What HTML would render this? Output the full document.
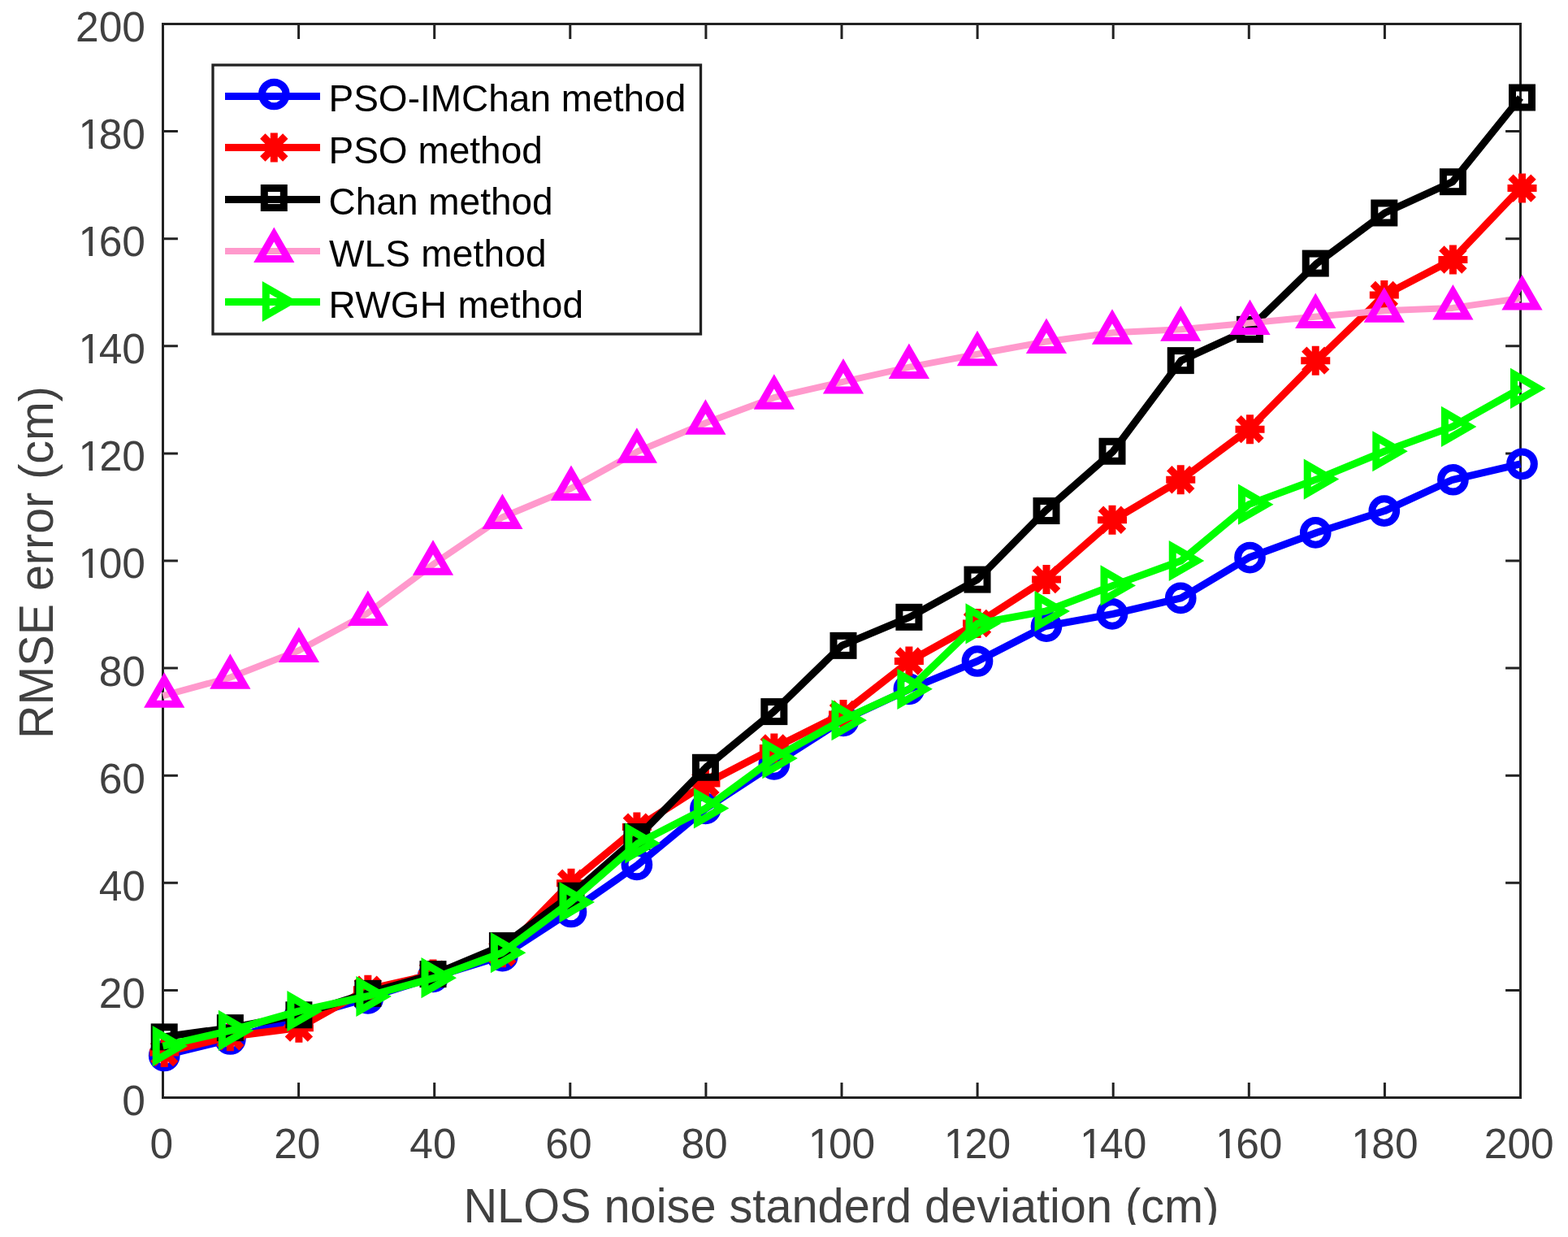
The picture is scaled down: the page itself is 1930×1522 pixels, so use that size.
<!DOCTYPE html><html><head><meta charset="utf-8"><title>RMSE error vs NLOS noise</title><style>
html,body{margin:0;padding:0;background:#fff;}body{width:1930px;height:1522px;overflow:hidden;}
svg{display:block;}text{font-family:"Liberation Sans",Arial,Helvetica,sans-serif;}
</style></head><body>
<svg width="1930" height="1522" viewBox="0 0 1930 1522">
<rect width="1930" height="1522" fill="#ffffff"/>
<rect x="200.5" y="29.5" width="1671" height="1321" fill="none" stroke="#222222" stroke-width="3"/><path d="M200.5 1350.5V1332.1M200.5 29.5V47.9M200.5 1350.5H218.9M1871.5 1350.5H1853.1M367.6 1350.5V1332.1M367.6 29.5V47.9M200.5 1218.4H218.9M1871.5 1218.4H1853.1M534.7 1350.5V1332.1M534.7 29.5V47.9M200.5 1086.3H218.9M1871.5 1086.3H1853.1M701.8 1350.5V1332.1M701.8 29.5V47.9M200.5 954.2H218.9M1871.5 954.2H1853.1M868.9 1350.5V1332.1M868.9 29.5V47.9M200.5 822.1H218.9M1871.5 822.1H1853.1M1036 1350.5V1332.1M1036 29.5V47.9M200.5 690H218.9M1871.5 690H1853.1M1203.1 1350.5V1332.1M1203.1 29.5V47.9M200.5 557.9H218.9M1871.5 557.9H1853.1M1370.2 1350.5V1332.1M1370.2 29.5V47.9M200.5 425.8H218.9M1871.5 425.8H1853.1M1537.3 1350.5V1332.1M1537.3 29.5V47.9M200.5 293.7H218.9M1871.5 293.7H1853.1M1704.4 1350.5V1332.1M1704.4 29.5V47.9M200.5 161.6H218.9M1871.5 161.6H1853.1M1871.5 1350.5V1332.1M1871.5 29.5V47.9M200.5 29.5H218.9M1871.5 29.5H1853.1" stroke="#222222" stroke-width="3" fill="none"/>
<defs><clipPath id="cx100"><rect x="954.74" y="1345" width="200" height="74.95"/><rect x="1007.61" y="1418.95" width="4.64" height="20"/><rect x="1023.38" y="1418.95" width="200" height="20"/></clipPath><clipPath id="cx120"><rect x="1121.84" y="1345" width="200" height="74.95"/><rect x="1174.71" y="1418.95" width="4.64" height="20"/><rect x="1190.48" y="1418.95" width="200" height="20"/></clipPath><clipPath id="cx140"><rect x="1288.94" y="1345" width="200" height="74.95"/><rect x="1341.81" y="1418.95" width="4.64" height="20"/><rect x="1357.58" y="1418.95" width="200" height="20"/></clipPath><clipPath id="cx160"><rect x="1456.04" y="1345" width="200" height="74.95"/><rect x="1508.91" y="1418.95" width="4.64" height="20"/><rect x="1524.68" y="1418.95" width="200" height="20"/></clipPath><clipPath id="cx180"><rect x="1623.14" y="1345" width="200" height="74.95"/><rect x="1676.01" y="1418.95" width="4.64" height="20"/><rect x="1691.78" y="1418.95" width="200" height="20"/></clipPath><clipPath id="cy100"><rect x="56.57" y="631.4" width="200" height="74.95"/><rect x="109.45" y="705.35" width="4.64" height="20"/><rect x="125.22" y="705.35" width="200" height="20"/></clipPath><clipPath id="cy120"><rect x="56.57" y="499.3" width="200" height="74.95"/><rect x="109.45" y="573.25" width="4.64" height="20"/><rect x="125.22" y="573.25" width="200" height="20"/></clipPath><clipPath id="cy140"><rect x="56.57" y="367.2" width="200" height="74.95"/><rect x="109.45" y="441.15" width="4.64" height="20"/><rect x="125.22" y="441.15" width="200" height="20"/></clipPath><clipPath id="cy160"><rect x="56.57" y="235.1" width="200" height="74.95"/><rect x="109.45" y="309.05" width="4.64" height="20"/><rect x="125.22" y="309.05" width="200" height="20"/></clipPath><clipPath id="cy180"><rect x="56.57" y="103" width="200" height="74.95"/><rect x="109.45" y="176.95" width="4.64" height="20"/><rect x="125.22" y="176.95" width="200" height="20"/></clipPath></defs>
<g font-size="51.5" fill="#404040"><text x="184.38" y="1425">0</text><text x="337.16 365.8" y="1425">20</text><text x="504.26 532.9" y="1425">40</text><text x="671.36 700" y="1425">60</text><text x="838.46 867.1" y="1425">80</text><text x="994.74 1019.88 1048.52" y="1425" clip-path="url(#cx100)">100</text><text x="1161.84 1186.98 1215.62" y="1425" clip-path="url(#cx120)">120</text><text x="1328.94 1354.08 1382.72" y="1425" clip-path="url(#cx140)">140</text><text x="1496.04 1521.18 1549.82" y="1425" clip-path="url(#cx160)">160</text><text x="1663.14 1688.28 1716.92" y="1425" clip-path="url(#cx180)">180</text><text x="1826.74 1855.38 1884.02" y="1425">200</text><text x="150.36" y="1371.9">0</text><text x="121.72 150.36" y="1239.8">20</text><text x="121.72 150.36" y="1107.7">40</text><text x="121.72 150.36" y="975.6">60</text><text x="121.72 150.36" y="843.5">80</text><text x="96.57 121.72 150.36" y="711.4" clip-path="url(#cy100)">100</text><text x="96.57 121.72 150.36" y="579.3" clip-path="url(#cy120)">120</text><text x="96.57 121.72 150.36" y="447.2" clip-path="url(#cy140)">140</text><text x="96.57 121.72 150.36" y="315.1" clip-path="url(#cy160)">160</text><text x="96.57 121.72 150.36" y="183" clip-path="url(#cy180)">180</text><text x="93.07 121.72 150.36" y="50.9">200</text></g>
<defs><clipPath id="xlc"><rect x="0" y="1400" width="1930" height="107"/></clipPath></defs>
<text x="1035.4" y="1503.8" font-size="58.4" fill="#404040" text-anchor="middle" textLength="930" lengthAdjust="spacingAndGlyphs" clip-path="url(#xlc)">NLOS noise standerd deviation (cm)</text>
<text transform="translate(64.9 692) rotate(-90)" font-size="58.4" fill="#404040" text-anchor="middle" textLength="434" lengthAdjust="spacingAndGlyphs">RMSE error (cm)</text>
<g><polyline points="200.5,1298.98 284.05,1278.51 367.6,1252.09 451.15,1228.31 534.7,1201.89 618.25,1176.13 701.8,1121.97 785.35,1063.84 868.9,994.82 952.45,940.33 1036,886.83 1119.55,847.86 1203.1,813.51 1286.65,770.58 1370.2,755.39 1453.75,735.9 1537.3,686.04 1620.85,655.32 1704.4,628.57 1787.95,590.26 1871.5,570.78" fill="none" stroke="#0000ff" stroke-width="9.0" stroke-linejoin="round" stroke-linecap="butt"/><circle cx="202.2" cy="1298.98" r="14.85" fill="none" stroke="#0000ff" stroke-width="9.0"/><circle cx="283.35" cy="1278.51" r="14.85" fill="none" stroke="#0000ff" stroke-width="9.0"/><circle cx="367.9" cy="1252.09" r="14.85" fill="none" stroke="#0000ff" stroke-width="9.0"/><circle cx="452.85" cy="1228.31" r="14.85" fill="none" stroke="#0000ff" stroke-width="9.0"/><circle cx="533" cy="1201.89" r="14.85" fill="none" stroke="#0000ff" stroke-width="9.0"/><circle cx="618.4" cy="1176.13" r="14.85" fill="none" stroke="#0000ff" stroke-width="9.0"/><circle cx="703" cy="1121.97" r="14.85" fill="none" stroke="#0000ff" stroke-width="9.0"/><circle cx="783.9" cy="1063.84" r="14.85" fill="none" stroke="#0000ff" stroke-width="9.0"/><circle cx="868.4" cy="994.82" r="14.85" fill="none" stroke="#0000ff" stroke-width="9.0"/><circle cx="952.85" cy="940.33" r="14.85" fill="none" stroke="#0000ff" stroke-width="9.0"/><circle cx="1038" cy="886.83" r="14.85" fill="none" stroke="#0000ff" stroke-width="9.0"/><circle cx="1118.9" cy="847.86" r="14.85" fill="none" stroke="#0000ff" stroke-width="9.0"/><circle cx="1203" cy="813.51" r="14.85" fill="none" stroke="#0000ff" stroke-width="9.0"/><circle cx="1288" cy="770.58" r="14.85" fill="none" stroke="#0000ff" stroke-width="9.0"/><circle cx="1369" cy="755.39" r="14.85" fill="none" stroke="#0000ff" stroke-width="9.0"/><circle cx="1453.25" cy="735.9" r="14.85" fill="none" stroke="#0000ff" stroke-width="9.0"/><circle cx="1538.5" cy="686.04" r="14.85" fill="none" stroke="#0000ff" stroke-width="9.0"/><circle cx="1619.25" cy="655.32" r="14.85" fill="none" stroke="#0000ff" stroke-width="9.0"/><circle cx="1703.8" cy="628.57" r="14.85" fill="none" stroke="#0000ff" stroke-width="9.0"/><circle cx="1788.4" cy="590.26" r="14.85" fill="none" stroke="#0000ff" stroke-width="9.0"/><circle cx="1873.5" cy="570.78" r="14.85" fill="none" stroke="#0000ff" stroke-width="9.0"/></g>
<g><polyline points="200.5,1295.02 284.05,1275.2 367.6,1264.63 451.15,1217.74 534.7,1198.59 618.25,1172.16 701.8,1086.63 785.35,1017.61 868.9,964.11 952.45,920.51 1036,878.9 1119.55,813.51 1203.1,766.95 1286.65,713.12 1370.2,639.8 1453.75,590.26 1537.3,528.18 1620.85,443.63 1704.4,363.05 1787.95,319.46 1871.5,231.61" fill="none" stroke="#ff0000" stroke-width="9.0" stroke-linejoin="round" stroke-linecap="butt"/><path d="M202.2 1277.02V1313.02M184.2 1295.02H220.2M188.2 1281.02L216.2 1309.02M188.2 1309.02L216.2 1281.02" fill="none" stroke="#ff0000" stroke-width="9.0" stroke-linecap="butt"/><path d="M283.35 1257.2V1293.2M265.35 1275.2H301.35M269.35 1261.2L297.35 1289.2M269.35 1289.2L297.35 1261.2" fill="none" stroke="#ff0000" stroke-width="9.0" stroke-linecap="butt"/><path d="M367.9 1246.63V1282.63M349.9 1264.63H385.9M353.9 1250.63L381.9 1278.63M353.9 1278.63L381.9 1250.63" fill="none" stroke="#ff0000" stroke-width="9.0" stroke-linecap="butt"/><path d="M452.85 1199.74V1235.74M434.85 1217.74H470.85M438.85 1203.74L466.85 1231.74M438.85 1231.74L466.85 1203.74" fill="none" stroke="#ff0000" stroke-width="9.0" stroke-linecap="butt"/><path d="M533 1180.59V1216.59M515 1198.59H551M519 1184.59L547 1212.59M519 1212.59L547 1184.59" fill="none" stroke="#ff0000" stroke-width="9.0" stroke-linecap="butt"/><path d="M618.4 1154.16V1190.16M600.4 1172.16H636.4M604.4 1158.16L632.4 1186.16M604.4 1186.16L632.4 1158.16" fill="none" stroke="#ff0000" stroke-width="9.0" stroke-linecap="butt"/><path d="M703 1068.63V1104.63M685 1086.63H721M689 1072.63L717 1100.63M689 1100.63L717 1072.63" fill="none" stroke="#ff0000" stroke-width="9.0" stroke-linecap="butt"/><path d="M783.9 999.61V1035.61M765.9 1017.61H801.9M769.9 1003.61L797.9 1031.61M769.9 1031.61L797.9 1003.61" fill="none" stroke="#ff0000" stroke-width="9.0" stroke-linecap="butt"/><path d="M868.4 946.11V982.11M850.4 964.11H886.4M854.4 950.11L882.4 978.11M854.4 978.11L882.4 950.11" fill="none" stroke="#ff0000" stroke-width="9.0" stroke-linecap="butt"/><path d="M952.85 902.51V938.51M934.85 920.51H970.85M938.85 906.51L966.85 934.51M938.85 934.51L966.85 906.51" fill="none" stroke="#ff0000" stroke-width="9.0" stroke-linecap="butt"/><path d="M1038 860.9V896.9M1020 878.9H1056M1024 864.9L1052 892.9M1024 892.9L1052 864.9" fill="none" stroke="#ff0000" stroke-width="9.0" stroke-linecap="butt"/><path d="M1118.9 795.51V831.51M1100.9 813.51H1136.9M1104.9 799.51L1132.9 827.51M1104.9 827.51L1132.9 799.51" fill="none" stroke="#ff0000" stroke-width="9.0" stroke-linecap="butt"/><path d="M1203 748.95V784.95M1185 766.95H1221M1189 752.95L1217 780.95M1189 780.95L1217 752.95" fill="none" stroke="#ff0000" stroke-width="9.0" stroke-linecap="butt"/><path d="M1288 695.12V731.12M1270 713.12H1306M1274 699.12L1302 727.12M1274 727.12L1302 699.12" fill="none" stroke="#ff0000" stroke-width="9.0" stroke-linecap="butt"/><path d="M1369 621.8V657.8M1351 639.8H1387M1355 625.8L1383 653.8M1355 653.8L1383 625.8" fill="none" stroke="#ff0000" stroke-width="9.0" stroke-linecap="butt"/><path d="M1453.25 572.26V608.26M1435.25 590.26H1471.25M1439.25 576.26L1467.25 604.26M1439.25 604.26L1467.25 576.26" fill="none" stroke="#ff0000" stroke-width="9.0" stroke-linecap="butt"/><path d="M1538.5 510.18V546.18M1520.5 528.18H1556.5M1524.5 514.18L1552.5 542.18M1524.5 542.18L1552.5 514.18" fill="none" stroke="#ff0000" stroke-width="9.0" stroke-linecap="butt"/><path d="M1619.25 425.63V461.63M1601.25 443.63H1637.25M1605.25 429.63L1633.25 457.63M1605.25 457.63L1633.25 429.63" fill="none" stroke="#ff0000" stroke-width="9.0" stroke-linecap="butt"/><path d="M1703.8 345.05V381.05M1685.8 363.05H1721.8M1689.8 349.05L1717.8 377.05M1689.8 377.05L1717.8 349.05" fill="none" stroke="#ff0000" stroke-width="9.0" stroke-linecap="butt"/><path d="M1788.4 301.46V337.46M1770.4 319.46H1806.4M1774.4 305.46L1802.4 333.46M1774.4 333.46L1802.4 305.46" fill="none" stroke="#ff0000" stroke-width="9.0" stroke-linecap="butt"/><path d="M1873.5 213.61V249.61M1855.5 231.61H1891.5M1859.5 217.61L1887.5 245.61M1859.5 245.61L1887.5 217.61" fill="none" stroke="#ff0000" stroke-width="9.0" stroke-linecap="butt"/></g>
<g><polyline points="200.5,1275.86 284.05,1264.63 367.6,1248.78 451.15,1222.36 534.7,1198.59 618.25,1163.58 701.8,1102.15 785.35,1029.5 868.9,944.29 952.45,875.6 1036,794.36 1119.55,759.35 1203.1,713.12 1286.65,628.57 1370.2,555.26 1453.75,443.63 1537.3,405.32 1620.85,324.08 1704.4,262 1787.95,223.69 1871.5,119.99" fill="none" stroke="#000000" stroke-width="9.0" stroke-linejoin="round" stroke-linecap="butt"/><rect x="190.2" y="1263.86" width="24" height="24" fill="none" stroke="#000000" stroke-width="9.0" stroke-linejoin="miter"/><rect x="271.35" y="1252.63" width="24" height="24" fill="none" stroke="#000000" stroke-width="9.0" stroke-linejoin="miter"/><rect x="355.9" y="1236.78" width="24" height="24" fill="none" stroke="#000000" stroke-width="9.0" stroke-linejoin="miter"/><rect x="440.85" y="1210.36" width="24" height="24" fill="none" stroke="#000000" stroke-width="9.0" stroke-linejoin="miter"/><rect x="521" y="1186.59" width="24" height="24" fill="none" stroke="#000000" stroke-width="9.0" stroke-linejoin="miter"/><rect x="606.4" y="1151.58" width="24" height="24" fill="none" stroke="#000000" stroke-width="9.0" stroke-linejoin="miter"/><rect x="691" y="1090.15" width="24" height="24" fill="none" stroke="#000000" stroke-width="9.0" stroke-linejoin="miter"/><rect x="771.9" y="1017.5" width="24" height="24" fill="none" stroke="#000000" stroke-width="9.0" stroke-linejoin="miter"/><rect x="856.4" y="932.29" width="24" height="24" fill="none" stroke="#000000" stroke-width="9.0" stroke-linejoin="miter"/><rect x="940.85" y="863.6" width="24" height="24" fill="none" stroke="#000000" stroke-width="9.0" stroke-linejoin="miter"/><rect x="1026" y="782.36" width="24" height="24" fill="none" stroke="#000000" stroke-width="9.0" stroke-linejoin="miter"/><rect x="1106.9" y="747.35" width="24" height="24" fill="none" stroke="#000000" stroke-width="9.0" stroke-linejoin="miter"/><rect x="1191" y="701.12" width="24" height="24" fill="none" stroke="#000000" stroke-width="9.0" stroke-linejoin="miter"/><rect x="1276" y="616.57" width="24" height="24" fill="none" stroke="#000000" stroke-width="9.0" stroke-linejoin="miter"/><rect x="1357" y="543.26" width="24" height="24" fill="none" stroke="#000000" stroke-width="9.0" stroke-linejoin="miter"/><rect x="1441.25" y="431.63" width="24" height="24" fill="none" stroke="#000000" stroke-width="9.0" stroke-linejoin="miter"/><rect x="1526.5" y="393.32" width="24" height="24" fill="none" stroke="#000000" stroke-width="9.0" stroke-linejoin="miter"/><rect x="1607.25" y="312.08" width="24" height="24" fill="none" stroke="#000000" stroke-width="9.0" stroke-linejoin="miter"/><rect x="1691.8" y="250" width="24" height="24" fill="none" stroke="#000000" stroke-width="9.0" stroke-linejoin="miter"/><rect x="1776.4" y="211.69" width="24" height="24" fill="none" stroke="#000000" stroke-width="9.0" stroke-linejoin="miter"/><rect x="1861.5" y="107.99" width="24" height="24" fill="none" stroke="#000000" stroke-width="9.0" stroke-linejoin="miter"/></g>
<g><polyline points="200.5,856.18 284.05,833.33 367.6,800.5 451.15,755.39 534.7,693.3 618.25,636.5 701.8,601.49 785.35,555.26 868.9,520.25 952.45,489.21 1036,470.05 1119.55,451.56 1203.1,435.71 1286.65,420.52 1370.2,409.29 1453.75,405.32 1537.3,397.4 1620.85,389.47 1704.4,382.21 1787.95,378.9 1871.5,367.02" fill="none" stroke="#ff99cc" stroke-width="8" stroke-linejoin="round" stroke-linecap="butt"/><polygon points="202.2,836.18 219.52,866.18 184.88,866.18" fill="none" stroke="#ff00ff" stroke-width="9.0" stroke-linejoin="miter" stroke-miterlimit="10"/><polygon points="283.35,813.33 300.67,843.33 266.03,843.33" fill="none" stroke="#ff00ff" stroke-width="9.0" stroke-linejoin="miter" stroke-miterlimit="10"/><polygon points="367.9,780.5 385.22,810.5 350.58,810.5" fill="none" stroke="#ff00ff" stroke-width="9.0" stroke-linejoin="miter" stroke-miterlimit="10"/><polygon points="452.85,735.39 470.17,765.39 435.53,765.39" fill="none" stroke="#ff00ff" stroke-width="9.0" stroke-linejoin="miter" stroke-miterlimit="10"/><polygon points="533,673.3 550.32,703.3 515.68,703.3" fill="none" stroke="#ff00ff" stroke-width="9.0" stroke-linejoin="miter" stroke-miterlimit="10"/><polygon points="618.4,616.5 635.72,646.5 601.08,646.5" fill="none" stroke="#ff00ff" stroke-width="9.0" stroke-linejoin="miter" stroke-miterlimit="10"/><polygon points="703,581.49 720.32,611.49 685.68,611.49" fill="none" stroke="#ff00ff" stroke-width="9.0" stroke-linejoin="miter" stroke-miterlimit="10"/><polygon points="783.9,535.26 801.22,565.26 766.58,565.26" fill="none" stroke="#ff00ff" stroke-width="9.0" stroke-linejoin="miter" stroke-miterlimit="10"/><polygon points="868.4,500.25 885.72,530.25 851.08,530.25" fill="none" stroke="#ff00ff" stroke-width="9.0" stroke-linejoin="miter" stroke-miterlimit="10"/><polygon points="952.85,469.21 970.17,499.21 935.53,499.21" fill="none" stroke="#ff00ff" stroke-width="9.0" stroke-linejoin="miter" stroke-miterlimit="10"/><polygon points="1038,450.05 1055.32,480.05 1020.68,480.05" fill="none" stroke="#ff00ff" stroke-width="9.0" stroke-linejoin="miter" stroke-miterlimit="10"/><polygon points="1118.9,431.56 1136.22,461.56 1101.58,461.56" fill="none" stroke="#ff00ff" stroke-width="9.0" stroke-linejoin="miter" stroke-miterlimit="10"/><polygon points="1203,415.71 1220.32,445.71 1185.68,445.71" fill="none" stroke="#ff00ff" stroke-width="9.0" stroke-linejoin="miter" stroke-miterlimit="10"/><polygon points="1288,400.52 1305.32,430.52 1270.68,430.52" fill="none" stroke="#ff00ff" stroke-width="9.0" stroke-linejoin="miter" stroke-miterlimit="10"/><polygon points="1369,389.29 1386.32,419.29 1351.68,419.29" fill="none" stroke="#ff00ff" stroke-width="9.0" stroke-linejoin="miter" stroke-miterlimit="10"/><polygon points="1453.25,385.32 1470.57,415.32 1435.93,415.32" fill="none" stroke="#ff00ff" stroke-width="9.0" stroke-linejoin="miter" stroke-miterlimit="10"/><polygon points="1538.5,377.4 1555.82,407.4 1521.18,407.4" fill="none" stroke="#ff00ff" stroke-width="9.0" stroke-linejoin="miter" stroke-miterlimit="10"/><polygon points="1619.25,369.47 1636.57,399.47 1601.93,399.47" fill="none" stroke="#ff00ff" stroke-width="9.0" stroke-linejoin="miter" stroke-miterlimit="10"/><polygon points="1703.8,362.21 1721.12,392.21 1686.48,392.21" fill="none" stroke="#ff00ff" stroke-width="9.0" stroke-linejoin="miter" stroke-miterlimit="10"/><polygon points="1788.4,358.9 1805.72,388.9 1771.08,388.9" fill="none" stroke="#ff00ff" stroke-width="9.0" stroke-linejoin="miter" stroke-miterlimit="10"/><polygon points="1873.5,347.02 1890.82,377.02 1856.18,377.02" fill="none" stroke="#ff00ff" stroke-width="9.0" stroke-linejoin="miter" stroke-miterlimit="10"/></g>
<g><polyline points="200.5,1287.09 284.05,1267.94 367.6,1244.16 451.15,1226 534.7,1203.21 618.25,1172.16 701.8,1110.08 785.35,1037.42 868.9,994.49 952.45,933.06 1036,886.17 1119.55,847.86 1203.1,767.28 1286.65,752.09 1370.2,720.38 1453.75,690 1537.3,620.65 1620.85,589.6 1704.4,555.26 1787.95,524.88 1871.5,477.98" fill="none" stroke="#00ff00" stroke-width="9.0" stroke-linejoin="round" stroke-linecap="butt"/><polygon points="222.2,1287.09 192.2,1269.77 192.2,1304.41" fill="none" stroke="#00ff00" stroke-width="9.0" stroke-linejoin="miter" stroke-miterlimit="10"/><polygon points="303.35,1267.94 273.35,1250.62 273.35,1285.26" fill="none" stroke="#00ff00" stroke-width="9.0" stroke-linejoin="miter" stroke-miterlimit="10"/><polygon points="387.9,1244.16 357.9,1226.84 357.9,1261.48" fill="none" stroke="#00ff00" stroke-width="9.0" stroke-linejoin="miter" stroke-miterlimit="10"/><polygon points="472.85,1226 442.85,1208.68 442.85,1243.32" fill="none" stroke="#00ff00" stroke-width="9.0" stroke-linejoin="miter" stroke-miterlimit="10"/><polygon points="553,1203.21 523,1185.89 523,1220.53" fill="none" stroke="#00ff00" stroke-width="9.0" stroke-linejoin="miter" stroke-miterlimit="10"/><polygon points="638.4,1172.16 608.4,1154.84 608.4,1189.49" fill="none" stroke="#00ff00" stroke-width="9.0" stroke-linejoin="miter" stroke-miterlimit="10"/><polygon points="723,1110.08 693,1092.76 693,1127.4" fill="none" stroke="#00ff00" stroke-width="9.0" stroke-linejoin="miter" stroke-miterlimit="10"/><polygon points="803.9,1037.42 773.9,1020.1 773.9,1054.74" fill="none" stroke="#00ff00" stroke-width="9.0" stroke-linejoin="miter" stroke-miterlimit="10"/><polygon points="888.4,994.49 858.4,977.17 858.4,1011.81" fill="none" stroke="#00ff00" stroke-width="9.0" stroke-linejoin="miter" stroke-miterlimit="10"/><polygon points="972.85,933.06 942.85,915.74 942.85,950.38" fill="none" stroke="#00ff00" stroke-width="9.0" stroke-linejoin="miter" stroke-miterlimit="10"/><polygon points="1058,886.17 1028,868.85 1028,903.49" fill="none" stroke="#00ff00" stroke-width="9.0" stroke-linejoin="miter" stroke-miterlimit="10"/><polygon points="1138.9,847.86 1108.9,830.54 1108.9,865.18" fill="none" stroke="#00ff00" stroke-width="9.0" stroke-linejoin="miter" stroke-miterlimit="10"/><polygon points="1223,767.28 1193,749.96 1193,784.6" fill="none" stroke="#00ff00" stroke-width="9.0" stroke-linejoin="miter" stroke-miterlimit="10"/><polygon points="1308,752.09 1278,734.77 1278,769.41" fill="none" stroke="#00ff00" stroke-width="9.0" stroke-linejoin="miter" stroke-miterlimit="10"/><polygon points="1389,720.38 1359,703.06 1359,737.7" fill="none" stroke="#00ff00" stroke-width="9.0" stroke-linejoin="miter" stroke-miterlimit="10"/><polygon points="1473.25,690 1443.25,672.68 1443.25,707.32" fill="none" stroke="#00ff00" stroke-width="9.0" stroke-linejoin="miter" stroke-miterlimit="10"/><polygon points="1558.5,620.65 1528.5,603.33 1528.5,637.97" fill="none" stroke="#00ff00" stroke-width="9.0" stroke-linejoin="miter" stroke-miterlimit="10"/><polygon points="1639.25,589.6 1609.25,572.28 1609.25,606.92" fill="none" stroke="#00ff00" stroke-width="9.0" stroke-linejoin="miter" stroke-miterlimit="10"/><polygon points="1723.8,555.26 1693.8,537.94 1693.8,572.58" fill="none" stroke="#00ff00" stroke-width="9.0" stroke-linejoin="miter" stroke-miterlimit="10"/><polygon points="1808.4,524.88 1778.4,507.55 1778.4,542.2" fill="none" stroke="#00ff00" stroke-width="9.0" stroke-linejoin="miter" stroke-miterlimit="10"/><polygon points="1893.5,477.98 1863.5,460.66 1863.5,495.3" fill="none" stroke="#00ff00" stroke-width="9.0" stroke-linejoin="miter" stroke-miterlimit="10"/></g>
<rect x="262" y="80" width="600.5" height="331" fill="#ffffff" stroke="#222222" stroke-width="3.3"/>
<path d="M277 118.5H394" stroke="#0000ff" stroke-width="9.0"/>
<circle cx="337.3" cy="116" r="14.85" fill="none" stroke="#0000ff" stroke-width="9.0"/>
<text x="404.5" y="136.9" font-size="46" fill="#000000">PSO-IMChan method</text>
<path d="M277 181.5H394" stroke="#ff0000" stroke-width="9.0"/>
<path d="M337.3 163.5V199.5M319.3 181.5H355.3M323.3 167.5L351.3 195.5M323.3 195.5L351.3 167.5" fill="none" stroke="#ff0000" stroke-width="9.0" stroke-linecap="butt"/>
<text x="404.5" y="200.6" font-size="46" fill="#000000">PSO method</text>
<path d="M277 245.5H394" stroke="#000000" stroke-width="9.0"/>
<rect x="325.3" y="231.5" width="24" height="24" fill="none" stroke="#000000" stroke-width="9.0" stroke-linejoin="miter"/>
<text x="404.5" y="264.2" font-size="46" fill="#000000">Chan method</text>
<path d="M277 308.9H394" stroke="#ff99cc" stroke-width="8"/>
<polygon points="337.3,288.5 354.62,318.5 319.98,318.5" fill="none" stroke="#ff00ff" stroke-width="9.0" stroke-linejoin="miter" stroke-miterlimit="10"/>
<text x="405" y="327.7" font-size="46" fill="#000000" textLength="267.5" lengthAdjust="spacing">WLS method</text>
<path d="M277 371.5H394" stroke="#00ff00" stroke-width="9.0"/>
<polygon points="357.3,371 327.3,353.68 327.3,388.32" fill="none" stroke="#00ff00" stroke-width="9.0" stroke-linejoin="miter" stroke-miterlimit="10"/>
<text x="404.5" y="391.1" font-size="46" fill="#000000" textLength="313.63" lengthAdjust="spacing">RWGH method</text>
</svg></body></html>
